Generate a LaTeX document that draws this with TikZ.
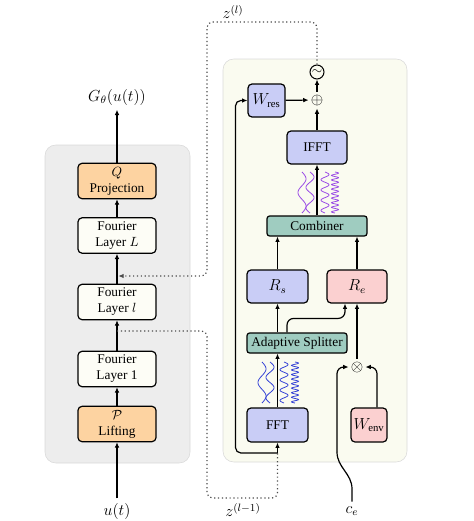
\documentclass[tikz,border=0pt]{standalone}
\usepackage{fontspec}
\setmainfont{Liberation Serif}
\usetikzlibrary{arrows.meta, positioning, shapes.geometric}
\definecolor{liftorange}{HTML}{FDD3A1}
\definecolor{layerwhite}{HTML}{FDFDF6}
\definecolor{fftblue}{HTML}{C9CDF6}
\definecolor{envpink}{HTML}{FBD0D0}
\definecolor{mixteal}{HTML}{9FCCC0}
\definecolor{panelgray}{HTML}{EDEDED}
\definecolor{panelcream}{HTML}{FAFBF0}
\definecolor{wavepurple}{HTML}{9A4BE6}
\definecolor{waveblue}{HTML}{3542D6}
\tikzset{box/.style={rectangle,draw,rounded corners=3pt,align=center,line width=0.9pt,inner sep=1pt,minimum width=58.5pt,minimum height=26.5pt},bar/.style={box,fill=mixteal,rounded corners=2pt,minimum width=75pt,minimum height=15pt},op/.style={circle,inner sep=0pt,font=\large},tag/.style={font=\fontsize{11.5}{13}\selectfont},line/.style={-{Latex[length=4pt,width=3.5pt]},line width=0.9pt},dotline/.style={dotted,line width=0.9pt,draw=black!70}}
\newcommand{\freqwave}[6]{\draw[#6,line width=0.6pt] plot[domain=0:#3,samples=120,smooth] ({#1+#4*sin(#5*360/#3*\x)},{#2+\x});}

\begin{document}
\begin{tikzpicture}[x=0.75pt,y=-0.75pt]
\useasboundingbox (0,0) rectangle (474,521);
\draw[fill=panelgray,draw=black!15,rounded corners=8pt] (45,145) rectangle (190,463);
\draw[fill=panelcream,draw=black!15,rounded corners=8pt] (223,59) rectangle (407,462);
\node[box,fill=liftorange] (lift) at (117,424) {$\mathcal{P}$\\Lifting};
\node[box,fill=layerwhite] (l1) at (117,369) {Fourier\\Layer 1};
\node[box,fill=layerwhite] (ll) at (117,302) {Fourier\\Layer $l$};
\node[box,fill=layerwhite] (lL) at (117,235.5) {Fourier\\Layer $L$};
\node[box,fill=liftorange] (q) at (117,181) {$Q$\\Projection};
\node[tag] (gout) at (117,97) {$G_\theta(u(t))$};
\node[tag] (uin) at (117,511) {$u(t)$};
\node[box,fill=fftblue,minimum width=45.75pt,minimum height=25.5pt] (fft) at (277.5,425) {FFT};
\node[bar] (split) at (297,343) {Adaptive Splitter};
\node[box,fill=fftblue,minimum width=45.75pt,minimum height=24.75pt,tag] (rs) at (277.5,286.5) {$R_s$};
\node[box,fill=envpink,minimum width=45pt,minimum height=24.75pt,tag] (re) at (357,286.5) {$R_e$};
\node[bar] (comb) at (317,226) {Combiner};
\node[box,fill=fftblue,minimum width=45pt,minimum height=24.75pt] (ifft) at (317,147.5) {IFFT};
\node[box,fill=fftblue,minimum width=27.75pt,minimum height=24.75pt,tag] (wres) at (266.5,100.5) {$W_{\mathrm{res}}$};
\node[box,fill=envpink,minimum width=27pt,minimum height=25.5pt,tag] (wenv) at (369,425) {$W_{\mathrm{env}}$};
\node[op] (plus) at (317,100) {$\oplus$};
\node[op] (times) at (357,367) {$\otimes$};
\node[circle,draw,line width=0.8pt,inner sep=0pt,minimum size=10.5pt] (act) at (317,72) {$\sim$};
\node[tag] (zout) at (233,12) {$z^{(l)}$};
\node[tag] (zin) at (243,510) {$z^{(l-1)}$};
\node[tag] (ce) at (352,511) {$c_e$};
\coordinate (tap) at (117,331);
\coordinate (back) at (117,276);
\coordinate (fin) at (277.5,453);
\coordinate (cebend) at (337,452);
\freqwave{302}{172}{41}{4}{1.5}{wavepurple}
\freqwave{310}{172}{41}{4}{2}{wavepurple}
\freqwave{325}{172}{41}{4}{4}{wavepurple}
\freqwave{335}{172}{41}{3.5}{9}{wavepurple}
\freqwave{262}{362}{41}{4}{1.5}{waveblue}
\freqwave{270}{362}{41}{4}{2}{waveblue}
\freqwave{284}{362}{41}{4}{4}{waveblue}
\freqwave{295}{362}{41}{3.5}{9}{waveblue}
\draw[line] (uin) -- (lift);
\draw[line] (lift) -- (l1);
\draw[line] (l1) -- (ll);
\draw[line] (ll) -- (lL);
\draw[line] (lL) -- (q);
\draw[line] (q) -- (gout);
\draw[dotline,rounded corners=4pt] (tap) -| (207,498) -| (fin);
\draw[dotline,-{Latex[length=4pt,width=3.5pt]},rounded corners=4pt] (act.north) |- (207,22) |- ([xshift=1pt]back);
\draw[line] (fin) -- (fft);
\draw[line,rounded corners=4pt] (fin) -- ++(-42,0) |- (wres.west);
\draw[line] (fft) -- (fft.north |- split.south);
\draw[line] (split.north -| rs) -- (rs.south);
\draw[line,rounded corners=5pt] ([xshift=-7.5pt]split.north) -- ++(0,-14) -| ([xshift=-9pt]re.south);
\draw[line width=0.9pt] (ce) -- ++(0,-22) to[out=90,in=-90] (cebend);
\draw[line,rounded corners=5pt] (cebend) |- (times.west);
\draw[line,rounded corners=5pt] ([xshift=6pt]wenv.north) |- (times.east);
\draw[line] (times) -- (re.south);
\draw[line] (rs) -- (rs.north |- comb.south);
\draw[line] (re) -- (re.north |- comb.south);
\draw[line] (comb) -- (ifft);
\draw[line] (ifft) -- (plus);
\draw[line] (wres) -- (plus);
\draw[line] (plus) -- (act);
\end{tikzpicture}
\end{document}
